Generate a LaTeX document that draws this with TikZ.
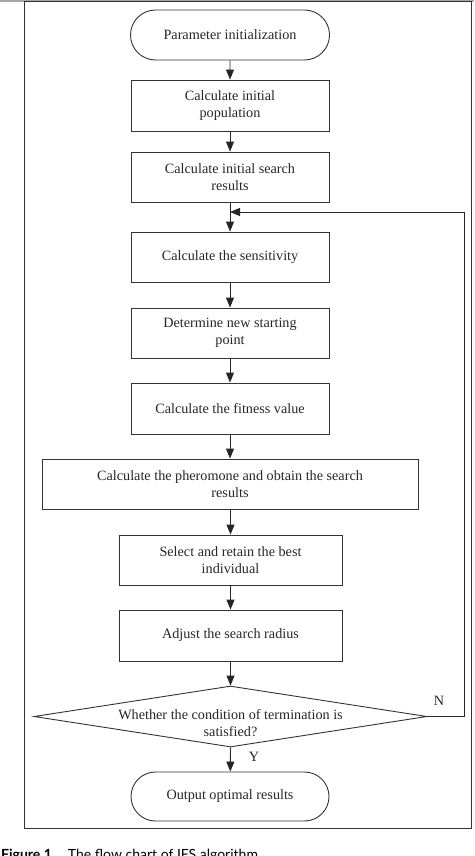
\documentclass[tikz,border=0pt]{standalone}
\usepackage{fontspec}
\setmainfont{Liberation Serif}
\newfontfamily\capfont{Lato}
\usetikzlibrary{arrows.meta,shapes.geometric,shapes.misc}
\begin{document}
\begin{tikzpicture}[x=1pt,y=-1pt,
  every node/.style={font=\fontsize{14.2}{17.3}\selectfont, text=black!85},
  stepbox/.style={draw=black!80, line width=0.9pt, minimum width=198pt, minimum height=50pt, align=center, inner sep=0pt},
  termbox/.style={stepbox, rounded rectangle},
  arr/.style={draw=black!85, line width=0.9pt, -{Triangle[length=10pt,width=8pt]}},
  lab/.style={inner sep=0pt}
]
\useasboundingbox (0,0) rectangle (474,856);
\fill[gray!70] (0,0) rectangle (474,2);
\draw[black!80, line width=1.4pt] (24.5,1.5) rectangle (471.5,828.5);

\node[termbox, minimum width=199pt] (start) at (230,35) {Parameter initialization};
\node[stepbox, minimum height=51pt] (b1) at (230,105.5) {Calculate initial\\population};
\node[stepbox] (b2) at (230,177) {Calculate initial search\\results};
\node[stepbox] (b3) at (230,257) {Calculate the sensitivity};
\node[stepbox] (b4) at (230,333) {Determine new starting\\point};
\node[stepbox, minimum height=51pt] (b5) at (230,408.5) {Calculate the fitness value};
\node[stepbox, minimum width=376pt] (b6) at (230,484) {Calculate the pheromone and obtain the search\\results};
\node[stepbox, minimum width=223pt] (b7) at (230.5,560) {Select and retain the best\\individual};
\node[stepbox, minimum width=223pt, minimum height=51pt] (b8) at (230.5,635.5) {Adjust the search radius};
\node[diamond, draw=black!80, line width=0.9pt, minimum width=393pt, minimum height=61pt, inner sep=0pt] (dia) at (230.5,716.5) {};
\node[align=center, inner sep=0pt] (dtext) at (230.5,723) {Whether the condition of termination is\\satisfied?};
\node[termbox, minimum height=49pt] (end) at (230,796.5) {Output optimal results};

\coordinate (join) at (230,212);

\draw[arr] (start) -- (b1);
\draw[arr] (b1) -- (b2);
\draw[arr] (b2) -- (b3);
\draw[arr] (b3) -- (b4);
\draw[arr] (b4) -- (b5);
\draw[arr] (b5) -- (b6);
\draw[arr] (b6.south -| b7.north) -- (b7);
\draw[arr] (b7) -- (b8);
\draw[arr] (b8) -- (dia.north);
\draw[arr] (dia.south) -- (end);
\draw[arr] (dia.east) -- ++(37,0) |- (join);

\node[lab] (n) at (439,701) {N};
\node[lab] (y) at (254,757) {Y};

\node[anchor=base west, inner sep=0pt, font=\capfont\fontsize{14}{17}\selectfont, text=black] (cap) at (1,859.5) {\textbf{Figure 1}\hspace{16pt}The flow chart of IFS algorithm};
\end{tikzpicture}
\end{document}
